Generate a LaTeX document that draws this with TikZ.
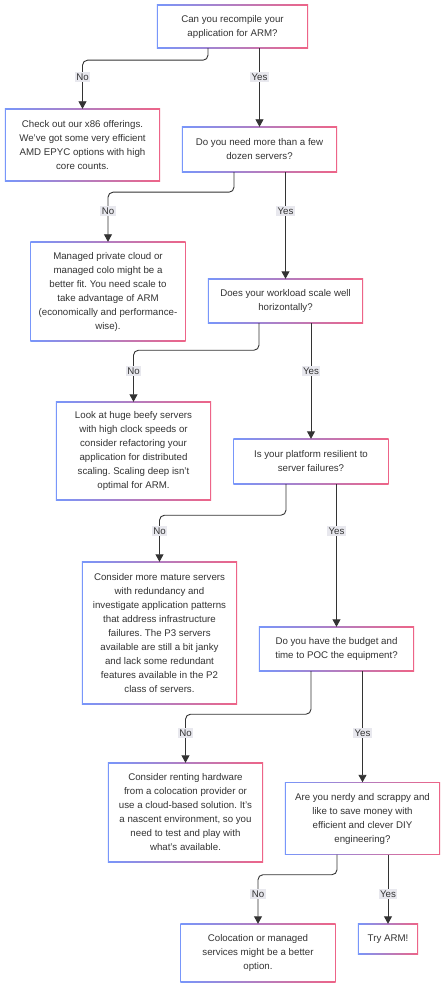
\documentclass[tikz,border=0pt]{standalone}
\usepackage{fontspec}
\setmainfont{Liberation Sans}
\usetikzlibrary{arrows.meta,backgrounds}
\definecolor{bl}{RGB}{120,150,250}
\definecolor{pk}{RGB}{238,100,135}
\definecolor{tx}{RGB}{51,51,51}
\definecolor{lbg}{RGB}{232,232,238}
\frenchspacing
\begin{document}
\begin{tikzpicture}[x=1pt,y=-1pt,
 box/.style={minimum width=155pt, align=center, inner sep=0pt, font=\fontsize{9.7}{14}\selectfont, text=tx},
 edge/.style={draw=tx, line width=0.9pt, rounded corners=5pt, -{Triangle[length=7.5pt,width=8pt]}},
 lab/.style={fill=lbg, text=tx, font=\fontsize{9.7}{11}\selectfont, inner sep=1.5pt}]
\useasboundingbox (0,0) rectangle (447,992);

\node[box, minimum width=151pt, minimum height=43pt] (q1) at (232.5,26.5) {Can you recompile your\\application for ARM?};
\node[box, minimum height=72pt] (a1) at (82.5,145) {Check out our x86 offerings.\\We've got some very efficient\\AMD EPYC options with high\\core counts.};
\node[box, minimum height=45pt] (q2) at (259.5,149.5) {Do you need more than a few\\dozen servers?};
\node[box, minimum height=99pt] (a2) at (108,291.5) {Managed private cloud or\\managed colo might be a\\better fit. You need scale to\\take advantage of ARM\\(economically and performance-\\wise).};
\node[box, minimum height=44pt] (q3) at (285.5,301) {Does your workload scale well\\horizontally?};
\node[box, minimum height=98pt] (a3) at (133.5,451) {Look at huge beefy servers\\with high clock speeds or\\consider refactoring your\\application for distributed\\scaling. Scaling deep isn't\\optimal for ARM.};
\node[box, minimum height=45pt] (q4) at (311,461.5) {Is your platform resilient to\\server failures?};
\node[box, minimum height=142pt] (a4) at (159.5,633) {Consider more mature servers\\with redundancy and\\investigate application patterns\\that address infrastructure\\failures. The P3 servers\\available are still a bit janky\\and lack some redundant\\features available in the P2\\class of servers.};
\node[box, minimum height=44pt] (q5) at (336.5,649) {Do you have the budget and\\time to POC the equipment?};
\node[box, minimum height=99pt] (a5) at (185.5,812.5) {Consider renting hardware\\from a colocation provider or\\use a cloud-based solution. It's\\a nascent environment, so you\\need to test and play with\\what's available.};
\node[box, minimum height=72pt] (q6) at (362.5,818.5) {Are you nerdy and scrappy and\\like to save money with\\efficient and clever DIY\\engineering?};
\node[box, minimum height=58pt] (a6) at (258,953) {Colocation or managed\\services might be a better\\option.};
\node[box, minimum width=60pt, minimum height=30pt] (a7) at (388,939) {Try ARM!};

\begin{scope}[on background layer]
\fill[white] (0,0) rectangle (447,992);
\foreach \n in {q1,a1,q2,a2,q3,a3,q4,a4,q5,a5,q6,a6,a7}{
  \shade[left color=bl, right color=pk] (\n.south west) rectangle (\n.north east);
  \fill[white] ([shift={(1.1,-1.1)}]\n.south west) rectangle ([shift={(-1.1,1.1)}]\n.north east);
}
\end{scope}

% level 1
\draw[edge] ([xshift=-24.5pt]q1.south) -- ++(0,12) -| (a1.north);
\draw[edge] (q1.south -| q2.north) -- (q2.north);
\node[lab] at ([yshift=32pt]a1.north) {No};
\node[lab] at ([yshift=50pt]q2.north) {Yes};
% level 2
\draw[edge] ([xshift=-25.5pt]q2.south) -- ++(0,20) -| (a2.north);
\draw[edge] (q2.south -| q3.north) -- (q3.north);
\node[lab] at ([yshift=31pt]a2.north) {No};
\node[lab] at ([yshift=68pt]q3.north) {Yes};
% level 3
\draw[edge] ([xshift=-26.5pt]q3.south) -- ++(0,27) -| (a3.north);
\draw[edge] (q3.south -| q4.north) -- (q4.north);
\node[lab] at ([yshift=31pt]a3.north) {No};
\node[lab] at ([yshift=68pt]q4.north) {Yes};
% level 4
\draw[edge] ([xshift=-25pt]q4.south) -- ++(0,31) -| (a4.north);
\draw[edge] (q4.south -| q5.north) -- (q5.north);
\node[lab] at ([yshift=31pt]a4.north) {No};
\node[lab] at ([yshift=96pt]q5.north) {Yes};
% level 5
\draw[edge] ([xshift=-25.5pt]q5.south) -- ++(0,43) -| (a5.north);
\draw[edge] (q5.south -| q6.north) -- (q6.north);
\node[lab] at ([yshift=30pt]a5.north) {No};
\node[lab] at ([yshift=49pt]q6.north) {Yes};
% level 6
\draw[edge] ([xshift=-25.5pt]q6.south) -- ++(0,20) -| (a6.north);
\draw[edge] (q6.south -| a7.north) -- (a7.north);
\node[lab] at ([yshift=30pt]a6.north) {No};
\node[lab] at ([yshift=30pt]a7.north) {Yes};
\end{tikzpicture}
\end{document}
